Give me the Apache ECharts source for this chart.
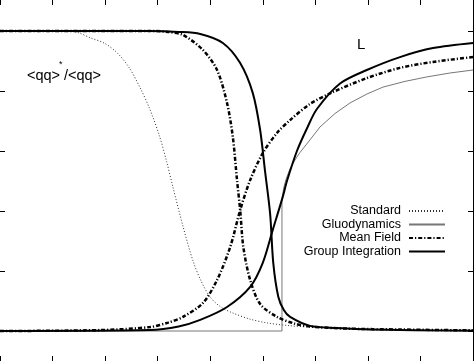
<!DOCTYPE html>
<html>
<head>
<meta charset="utf-8">
<script src="https://cdn.jsdelivr.net/npm/echarts@6/dist/echarts.min.js"></script>
<style>html,body{margin:0;padding:0;background:#fff}#c{width:474px;height:361px}</style>
</head>
<body>
<div id="c"></div>
<script>
// x in tick units (ticks at 0..9), y = normalized value
const xTicks = [0,1,2,3,4,5,6,7,8,9];
const yTicks = [0,0.2,0.4,0.6,0.8,1.0];
const seriesNames = ['Standard','Gluodynamics','Mean Field','Group Integration'];

const standardCondensate = [[0,1],[1.33,1.0],[1.5,0.994],[1.71,0.978],[2.0,0.958],[2.23,0.927],[2.45,0.88],[2.66,0.813],[2.85,0.74],[3.04,0.647],[3.17,0.565],[3.29,0.48],[3.48,0.35],[3.67,0.235],[3.83,0.165],[4.0,0.113],[4.2,0.08],[4.43,0.06],[4.75,0.04],[5.08,0.027],[5.5,0.018],[5.9,0.013],[6.7,0.008],[7.6,0.005],[9,0.003]];
const gluoPolyakov = [[0,0],[5.365,0],[5.365,0.44],[5.403,0.48],[5.441,0.505],[5.517,0.54],[5.613,0.57],[5.708,0.595],[5.898,0.637],[6.088,0.68],[6.374,0.725],[6.659,0.76],[6.982,0.79],[7.287,0.813],[7.705,0.832],[8.124,0.847],[8.562,0.86],[9,0.87]];
const mfCondensate = [[0,1],[2.85,1.0],[3.2,0.997],[3.48,0.987],[3.86,0.937],[4.13,0.87],[4.32,0.76],[4.43,0.647],[4.51,0.503],[4.57,0.403],[4.63,0.28],[4.76,0.17],[4.95,0.09],[5.27,0.047],[5.6,0.025],[5.9,0.015],[6.6,0.008],[7.6,0.005],[9,0.002]];
const mfPolyakov = [[0,0],[1.9,0.003],[2.85,0.013],[3.2,0.028],[3.48,0.047],[3.86,0.093],[4.13,0.17],[4.38,0.28],[4.57,0.403],[4.76,0.503],[5.0,0.593],[5.27,0.66],[5.52,0.703],[5.9,0.757],[6.34,0.797],[6.98,0.843],[7.61,0.877],[8.24,0.897],[9,0.913]];
const giCondensate = [[0,1],[2.85,1.0],[3.4,0.997],[3.81,0.99],[4.24,0.96],[4.57,0.893],[4.81,0.793],[4.95,0.67],[5.04,0.537],[5.14,0.39],[5.2,0.226],[5.295,0.114],[5.4,0.07],[5.52,0.047],[5.9,0.017],[6.41,0.01],[7.04,0.005],[9,0.001]];
const giPolyakov = [[0,0],[2.85,0.003],[3.4,0.015],[3.81,0.037],[4.32,0.08],[4.76,0.147],[5.0,0.227],[5.19,0.337],[5.38,0.447],[5.46,0.5],[5.65,0.6],[5.84,0.675],[6.03,0.74],[6.47,0.825],[6.98,0.87],[7.61,0.913],[8.24,0.943],[9,0.96]];

const FONT = 'Liberation Sans, Arial, sans-serif';
const chart = echarts.init(document.getElementById('c'), null, {renderer:'canvas'});

function legendAt(name, cy){
  return {
    data:[name], orient:'vertical', right:28, top:cy-7, align:'right',
    itemWidth:36, itemHeight:14, selectedMode:false, padding:0,
    itemStyle:{opacity:0},
    textStyle:{fontSize:12.5, fontFamily:FONT, color:'#000', padding:[0,3,0,0]}
  };
}

const black = '#000';
const SM = 0.3;
function xAxisIn(gridIndex){
  return {type:'value', position:'bottom', gridIndex:gridIndex, min:xTicks[0], max:xTicks[xTicks.length-1], interval:1,
    axisLine:{show:false, onZero:false}, axisTick:{show:true, inside:true, length:5, lineStyle:{color:black,width:1}},
    axisLabel:{show:false}, splitLine:{show:false}};
}
const option = {
  animation:false,
  backgroundColor:'#fff',
  grid:[
    {left:0, right:1, top:0, bottom:0, containLabel:false},
    {left:0, right:1, top:0, height:5, containLabel:false}
  ],
  xAxis:[xAxisIn(0), xAxisIn(1)],
  yAxis:[
    {type:'value', position:'left', gridIndex:0, min:-30/300, max:1+31/300,
     axisLine:{show:false, onZero:false}, axisTick:{show:true, inside:true, length:5, customValues:yTicks, lineStyle:{color:black,width:1}},
     axisLabel:{show:false}, splitLine:{show:false}},
    {type:'value', position:'right', gridIndex:0, min:-30/300, max:1+31/300,
     axisLine:{show:true, onZero:false, lineStyle:{color:black,width:1}}, axisTick:{show:true, inside:true, length:5, customValues:yTicks, lineStyle:{color:black,width:1}},
     axisLabel:{show:false}, splitLine:{show:false}},
    {type:'value', gridIndex:1, min:0, max:1, show:false}
  ],
  legend:[
    legendAt(seriesNames[0], 211.5),
    legendAt(seriesNames[1], 225),
    legendAt(seriesNames[2], 238.5),
    legendAt(seriesNames[3], 252)
  ],
  graphic:[
    {type:'text', left:27, top:68, style:{text:'<qq>', font:'14.5px '+FONT, fill:'#000'}},
    {type:'text', left:59, top:60, style:{text:'*', font:'9px '+FONT, fill:'#000'}},
    {type:'text', left:64, top:68, style:{text:'/<qq>', font:'14.5px '+FONT, fill:'#000'}},
    {type:'text', left:357, top:37, style:{text:'L', font:'15px '+FONT, fill:'#000'}}
  ],
  series:[
    {name:seriesNames[0], type:'line', xAxisIndex:0, yAxisIndex:0, data:standardCondensate, symbol:'none', smooth:SM,
     lineStyle:{color:'#333', width:1, type:[1,2]}, itemStyle:{color:'#333'}, z:2},
    {name:seriesNames[1], type:'line', xAxisIndex:0, yAxisIndex:0, data:gluoPolyakov, symbol:'none', smooth:false,
     lineStyle:{color:'#777', width:1}, itemStyle:{color:'#777'}, z:2},
    {name:seriesNames[2], type:'line', xAxisIndex:0, yAxisIndex:0, data:mfCondensate, symbol:'none', smooth:SM,
     lineStyle:{color:black, width:2.5, type:[4,2,1.2,2]}, itemStyle:{color:black}, z:3},
    {name:seriesNames[2], type:'line', xAxisIndex:0, yAxisIndex:0, data:mfPolyakov, symbol:'none', smooth:SM,
     lineStyle:{color:black, width:2.5, type:[4,2,1.2,2]}, itemStyle:{color:black}, z:3},
    {name:seriesNames[3], type:'line', xAxisIndex:0, yAxisIndex:0, data:giCondensate, symbol:'none', smooth:SM,
     lineStyle:{color:black, width:2}, itemStyle:{color:black}, z:4},
    {name:seriesNames[3], type:'line', xAxisIndex:0, yAxisIndex:0, data:giPolyakov, symbol:'none', smooth:SM,
     lineStyle:{color:black, width:2}, itemStyle:{color:black}, z:4}
  ]
};
chart.setOption(option);
</script>
</body>
</html>
